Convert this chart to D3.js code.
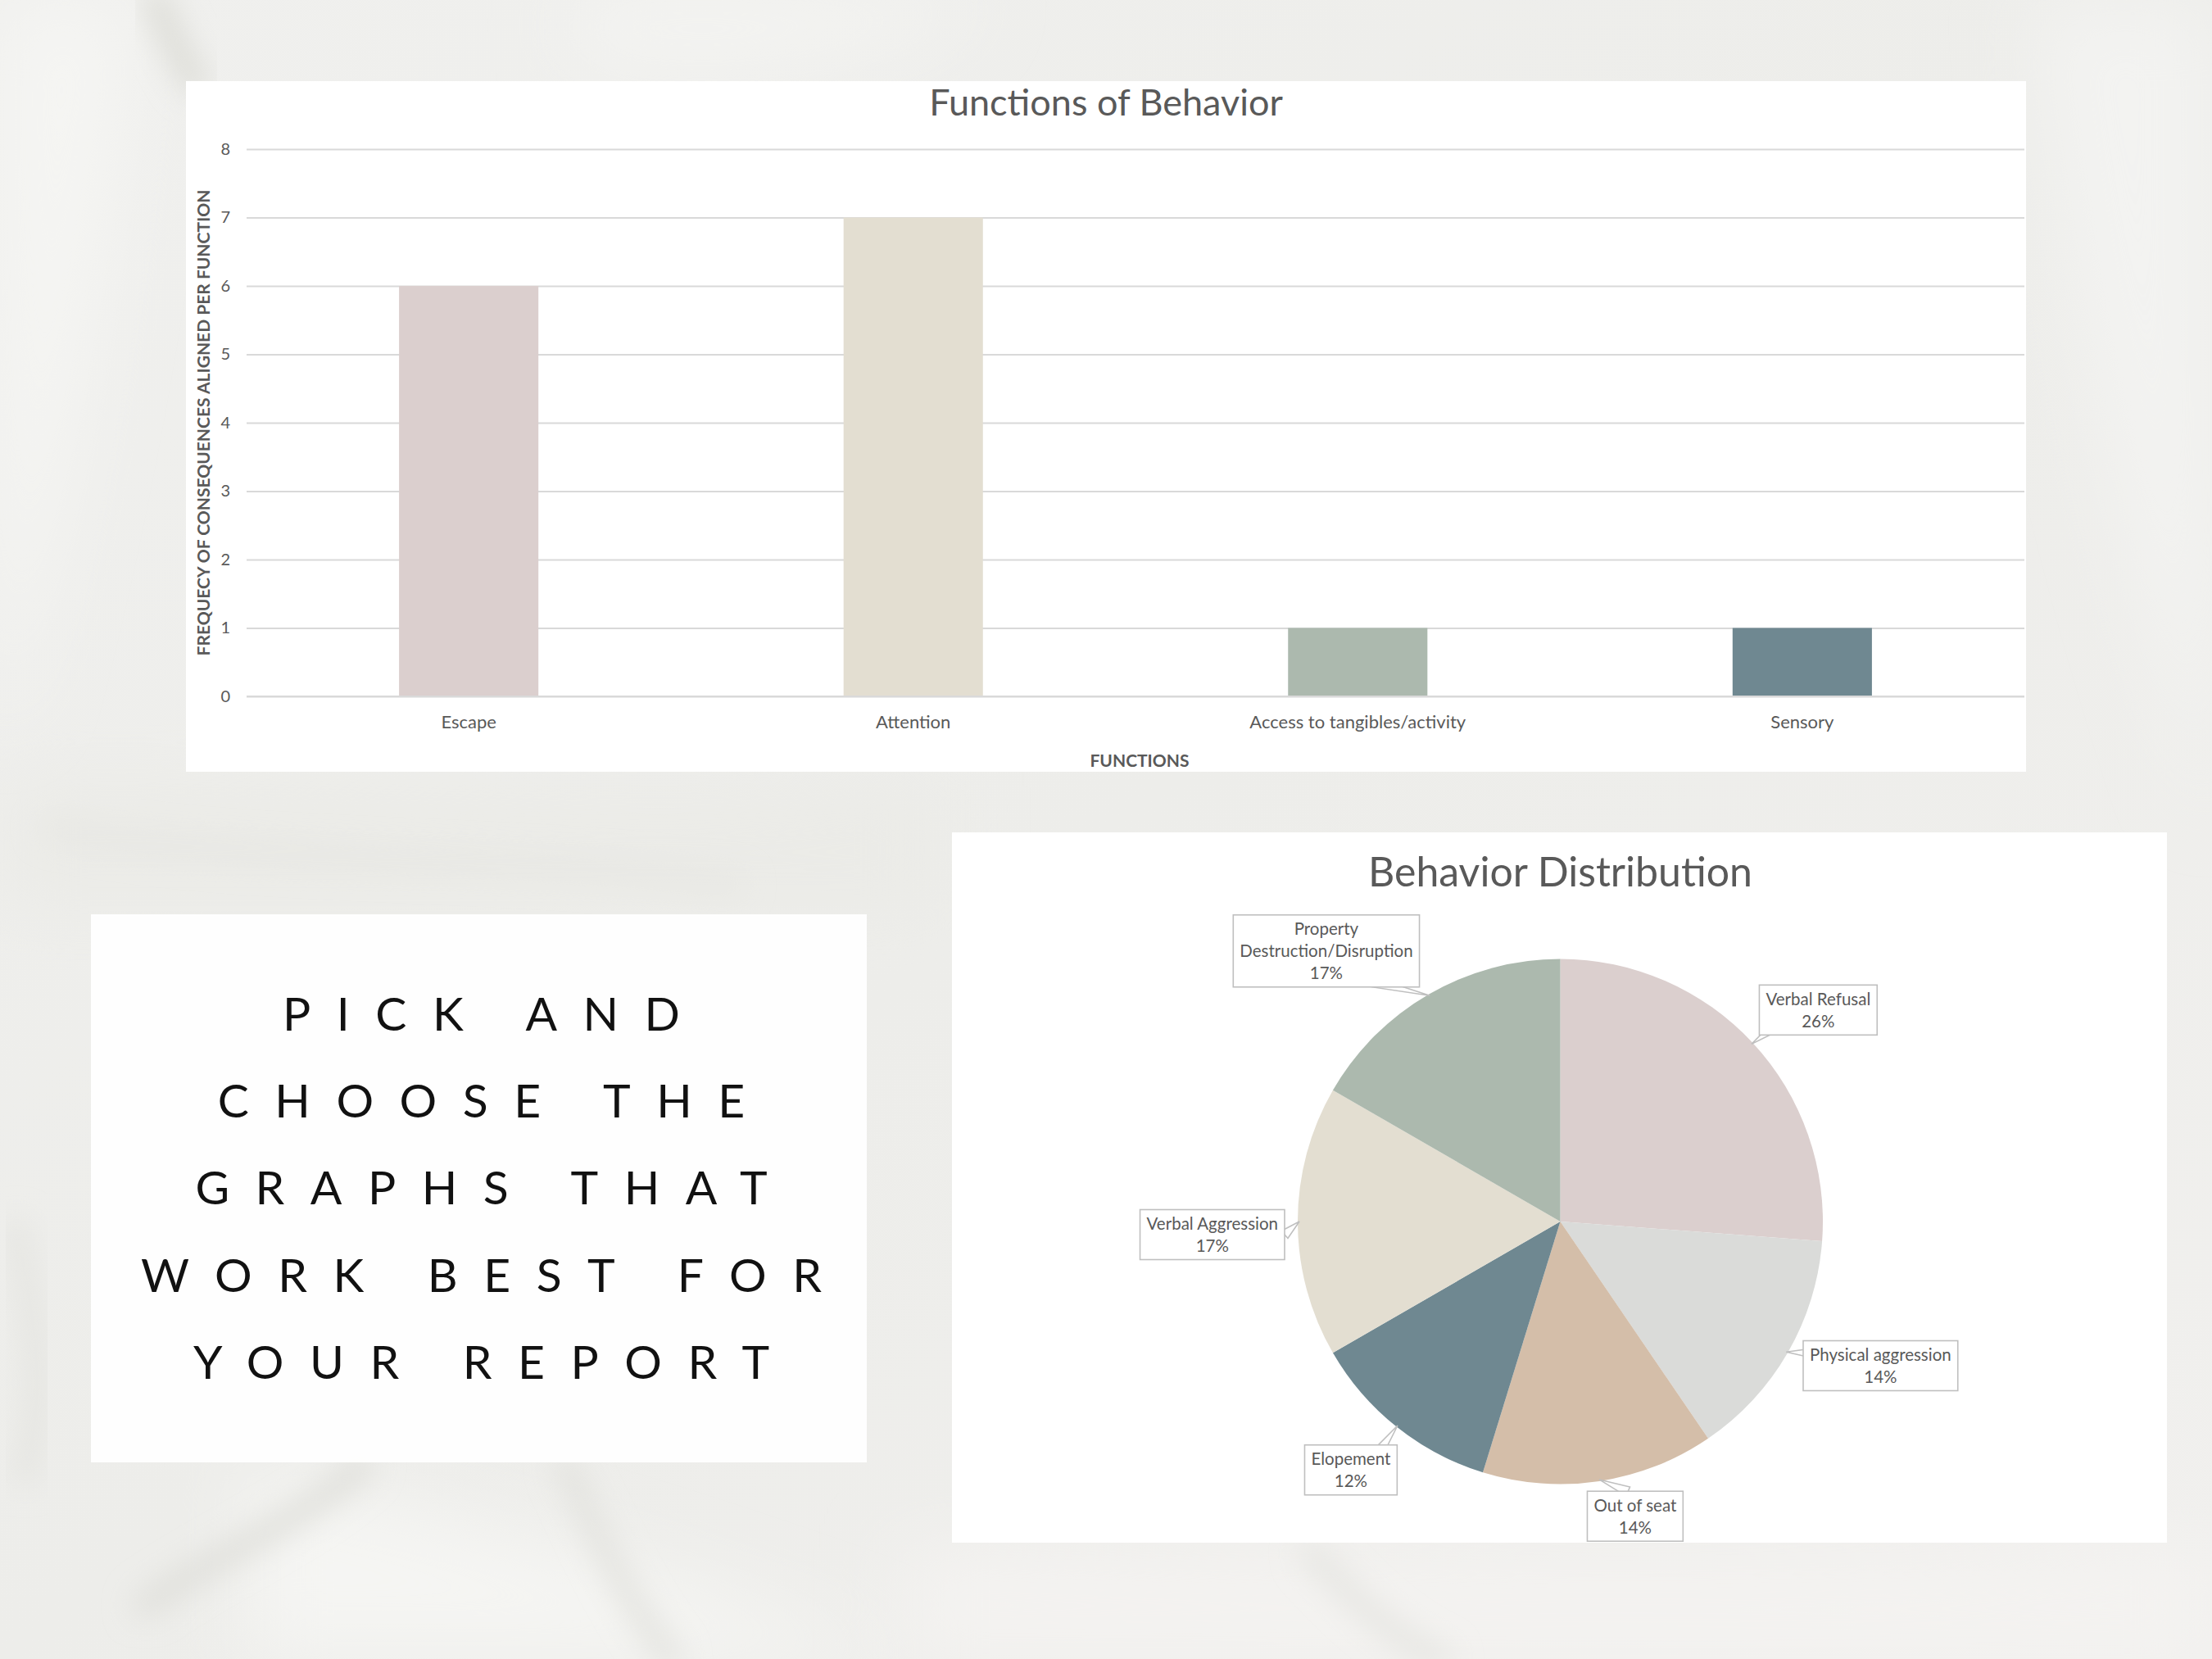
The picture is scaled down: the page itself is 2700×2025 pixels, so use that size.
<!DOCTYPE html>
<html><head><meta charset="utf-8">
<script src="https://cdn.jsdelivr.net/npm/d3@7"></script>
<style>html,body{margin:0;padding:0;background:#efefed;} svg{display:block;}</style>
</head><body><svg id="c" width="2700" height="2025"></svg>
<script>
// ---------------- DATA ----------------
const barCategories = ["Escape", "Attention", "Access to tangibles/activity", "Sensory"];
const barValues = [6, 7, 1, 1];
const barColors = ["#dbcfce", "#e3ded1", "#acb9ae", "#6f8891"];
const yTickValues = [0, 1, 2, 3, 4, 5, 6, 7, 8];
const barTitle = "Functions of Behavior";
const yAxisTitle = "FREQUECY OF CONSEQUENCES ALIGNED PER FUNCTION";
const xAxisTitle = "FUNCTIONS";

const pieCategories = ["Verbal Refusal", "Physical aggression", "Out of seat", "Elopement", "Verbal Aggression", "Property Destruction/Disruption"];
const pieValues = [11, 6, 6, 5, 7, 7];
const pieColors = ["#dbcfce", "#dadbd9", "#d4bea9", "#6f8891", "#e3ded1", "#acb9ae"];
const pieTitle = "Behavior Distribution";

const sloganLines = ["PICK AND", "CHOOSE THE", "GRAPHS THAT", "WORK BEST FOR", "YOUR REPORT"];

// ---------------- LAYOUT ----------------
const W = 2700, H = 2025;
const svg = d3.select("#c");
const defs = svg.append("defs");
const TXT = "#595959";
const FONT = "Lato, 'Open Sans', sans-serif";
// small placement nudges for the callout boxes (best-fit style offsets), in px
const labelNudge = [[3, 3], [3, -16], [30, -20], [0, 3], [17, 16], [-52, 14]];

// background (soft fabric)
const g0 = defs.append("linearGradient").attr("id", "bgg").attr("x1", 0).attr("y1", 0).attr("x2", 1).attr("y2", 1);
g0.append("stop").attr("offset", "0%").attr("stop-color", "#f0f0ee");
g0.append("stop").attr("offset", "50%").attr("stop-color", "#edEDEA");
g0.append("stop").attr("offset", "100%").attr("stop-color", "#f1f0ee");
defs.append("filter").attr("id", "blur").attr("x", "-50%").attr("y", "-50%").attr("width", "200%").attr("height", "200%")
  .append("feGaussianBlur").attr("stdDeviation", 18);
defs.append("filter").attr("id", "blur2").attr("x", "-50%").attr("y", "-50%").attr("width", "200%").attr("height", "200%")
  .append("feGaussianBlur").attr("stdDeviation", 45);
svg.append("rect").attr("width", W).attr("height", H).attr("fill", "url(#bgg)");
const bg = svg.append("g");
const softBlobs = [
  {d: "M0,0 L160,0 C140,300 60,700 0,900 Z", c: "#f5f5f3"},
  {d: "M700,0 L1200,0 C1100,60 900,90 700,60 Z", c: "#f5f5f3"},
  {d: "M2480,0 L2700,0 L2700,1000 C2600,700 2520,400 2480,0 Z", c: "#f3f3f1"},
  {d: "M300,1790 C600,1850 900,1950 1100,2025 L300,2025 Z", c: "#f5f5f3"},
  {d: "M1100,1890 C1500,1900 2100,1920 2700,1890 L2700,2025 L1100,2025 Z", c: "#f4f3f1"},
  {d: "M0,960 C300,940 700,1000 1150,960 L1150,1110 L0,1110 Z", c: "#ebebe7"}
];
bg.selectAll("path.blob").data(softBlobs).join("path").attr("class", "blob")
  .attr("d", d => d.d).attr("fill", d => d.c).attr("filter", "url(#blur2)");
const folds = [
  {d: "M190,0 C215,60 230,90 240,100", c: "#dcdcd6", w: 30},
  {d: "M444,1787 C380,1850 260,1900 176,1960", c: "#dedeD9", w: 26},
  {d: "M689,1787 C720,1850 760,1950 820,2025", c: "#e0e0db", w: 22},
  {d: "M20,1500 C40,1600 60,1700 30,1800", c: "#e4e4e0", w: 26},
  {d: "M60,1010 C300,1060 600,1040 900,1080", c: "#e6e6e2", w: 18},
  {d: "M1600,1895 C1650,1950 1700,2000 1760,2025", c: "#e4e4e0", w: 24}
];
bg.selectAll("path.fold").data(folds).join("path").attr("class", "fold")
  .attr("d", d => d.d).attr("fill", "none").attr("stroke", d => d.c).attr("stroke-width", d => d.w)
  .attr("stroke-linecap", "round").attr("filter", "url(#blur)");

// ================= BAR CHART =================
const barPanel = {x: 227, y: 99, w: 2246, h: 843};
svg.append("rect").attr("x", barPanel.x).attr("y", barPanel.y).attr("width", barPanel.w).attr("height", barPanel.h).attr("fill", "#ffffff");
const plot = {left: 301, right: 2471, top: 182, bottom: 850};

const x = d3.scaleBand().domain(barCategories).range([plot.left, plot.right]).paddingInner(0.6865).paddingOuter(0.343);
const y = d3.scaleLinear().domain([0, 8]).range([plot.bottom, plot.top]);

const gy = svg.append("g").attr("transform", `translate(${plot.left},0)`)
  .call(d3.axisLeft(y).tickValues(yTickValues).tickSize(-(plot.right - plot.left)).tickPadding(20).tickFormat(d3.format("d")));
gy.select(".domain").remove();
gy.selectAll(".tick line").attr("stroke", "#d9d9d9").attr("stroke-width", 2);
gy.selectAll(".tick text").attr("fill", TXT).attr("font-family", FONT).attr("font-size", 20);

svg.append("g").selectAll("rect").data(barValues).join("rect")
  .attr("x", (d, i) => x(barCategories[i]))
  .attr("y", d => y(d))
  .attr("width", x.bandwidth())
  .attr("height", d => y(0) - y(d))
  .attr("fill", (d, i) => barColors[i]);

svg.append("line").attr("x1", plot.left).attr("x2", plot.right).attr("y1", y(0)).attr("y2", y(0))
  .attr("stroke", "#d9d9d9").attr("stroke-width", 2);

const gx = svg.append("g").attr("transform", `translate(0,${plot.bottom})`)
  .call(d3.axisBottom(x).tickSize(0).tickPadding(23));
gx.select(".domain").remove();
gx.selectAll(".tick text").attr("fill", TXT).attr("font-family", FONT).attr("font-size", 22);

svg.append("text").text(barTitle).attr("x", barPanel.x + barPanel.w / 2).attr("y", 141)
  .attr("text-anchor", "middle").attr("fill", TXT).attr("font-family", FONT).attr("font-size", 45);
svg.append("text").text(xAxisTitle).attr("x", (plot.left + plot.right) / 2 + 5).attr("y", 936)
  .attr("text-anchor", "middle").attr("fill", TXT).attr("font-family", FONT).attr("font-weight", 700).attr("font-size", 21);
svg.append("text").text(yAxisTitle)
  .attr("transform", `translate(256,${(plot.top + plot.bottom) / 2}) rotate(-90)`)
  .attr("text-anchor", "middle").attr("fill", TXT).attr("font-family", FONT).attr("font-weight", 700).attr("font-size", 21);

// ================= SLOGAN BOX =================
const sBox = {x: 111, y: 1116, w: 947, h: 669};
svg.append("rect").attr("x", sBox.x).attr("y", sBox.y).attr("width", sBox.w).attr("height", sBox.h)
  .attr("fill", "#ffffff").attr("fill-opacity", 0.93);
const sFont = 57, sGap = 106.2, sFirstBaseline = 1258, sCenter = 587.5, sTargetWidth = 831;
const probe = svg.append("text").text("WORK BEST FOR").attr("font-family", FONT).attr("font-size", sFont).attr("letter-spacing", 0);
const natural = probe.node().getComputedTextLength();
probe.remove();
const ls = (sTargetWidth - natural) / ("WORK BEST FOR".length - 1);
svg.append("g").selectAll("text").data(sloganLines).join("text")
  .text(d => d)
  .attr("x", sCenter + ls / 2)
  .attr("y", (d, i) => sFirstBaseline + i * sGap)
  .attr("text-anchor", "middle").attr("fill", "#111111").attr("font-family", FONT).attr("font-weight", 400)
  .attr("font-size", sFont).attr("letter-spacing", ls);

// ================= PIE CHART =================
const piePanel = {x: 1162, y: 1016, w: 1483, h: 867};
svg.append("rect").attr("x", piePanel.x).attr("y", piePanel.y).attr("width", piePanel.w).attr("height", piePanel.h).attr("fill", "#ffffff");
const cx = 1904.5, cy = 1491, R = 320.5;
svg.append("text").text(pieTitle).attr("x", cx).attr("y", 1082)
  .attr("text-anchor", "middle").attr("fill", TXT).attr("font-family", FONT).attr("font-size", 50);

const pie = d3.pie().sort(null).value(d => d)(pieValues);
const total = d3.sum(pieValues);
const arc = d3.arc().innerRadius(0).outerRadius(R);
const gp = svg.append("g").attr("transform", `translate(${cx},${cy})`);
gp.selectAll("path").data(pie).join("path").attr("d", arc).attr("fill", (d, i) => pieColors[i]);

// labels (callouts)
const lblFont = 20.5, lineH = 27, padX = 8, padY = 3.5, maxW = 220, gap = 33;
const measure = svg.append("text").attr("font-family", FONT).attr("font-size", lblFont);
const tw = s => { measure.text(s); return measure.node().getComputedTextLength(); };
function wrap(s) {
  if (tw(s) <= maxW) return [s];
  const words = s.split(" "), out = [];
  let cur = "";
  words.forEach(w => { const t = cur ? cur + " " + w : w; if (tw(t) > maxW && cur) { out.push(cur); cur = w; } else cur = t; });
  if (cur) out.push(cur);
  return out;
}
const fmt = d3.format(".0%");
const labels = pie.map((p, i) => {
  const lines = wrap(pieCategories[i]).concat([fmt(p.value / total)]);
  const w = d3.max(lines, tw) + 2 * padX;
  const h = lines.length * lineH + 2 * padY;
  const a = (p.startAngle + p.endAngle) / 2;
  const s = Math.sin(a), c = -Math.cos(a);
  const ax = (R + gap) * s + labelNudge[i][0], ay = (R + gap) * c + labelNudge[i][1];
  const bx = ax + (w / 2) * s - w / 2, by = ay + (h / 2) * c - h / 2;
  const tx = (R - 2) * s, ty = (R - 2) * c;
  const dx = ax - tx, dy = ay - ty, L = Math.hypot(dx, dy);
  const nx = -dy / L * 6, ny = dx / L * 6;
  return {lines, w, h, bx, by, tip: [tx, ty], b1: [ax + nx, ay + ny], b2: [ax - nx, ay - ny]};
});
measure.remove();
const gl = gp.append("g");
gl.selectAll("path").data(labels).join("path")
  .attr("d", d => `M${d.tip[0]},${d.tip[1]}L${d.b1[0]},${d.b1[1]}L${d.b2[0]},${d.b2[1]}Z`)
  .attr("fill", "#ffffff").attr("stroke", "#bfbfbf").attr("stroke-width", 1.6);
const lg = gl.selectAll("g.lbl").data(labels).join("g").attr("class", "lbl");
lg.append("rect").attr("x", d => d.bx).attr("y", d => d.by).attr("width", d => d.w).attr("height", d => d.h)
  .attr("fill", "#ffffff").attr("stroke", "#bfbfbf").attr("stroke-width", 1.6);
lg.each(function(d) {
  d3.select(this).selectAll("text").data(d.lines).join("text")
    .text(t => t)
    .attr("x", d.bx + d.w / 2)
    .attr("y", (t, j) => d.by + padY + (j + 0.78) * lineH)
    .attr("text-anchor", "middle").attr("fill", TXT).attr("font-family", FONT).attr("font-size", lblFont);
});
</script></body></html>
